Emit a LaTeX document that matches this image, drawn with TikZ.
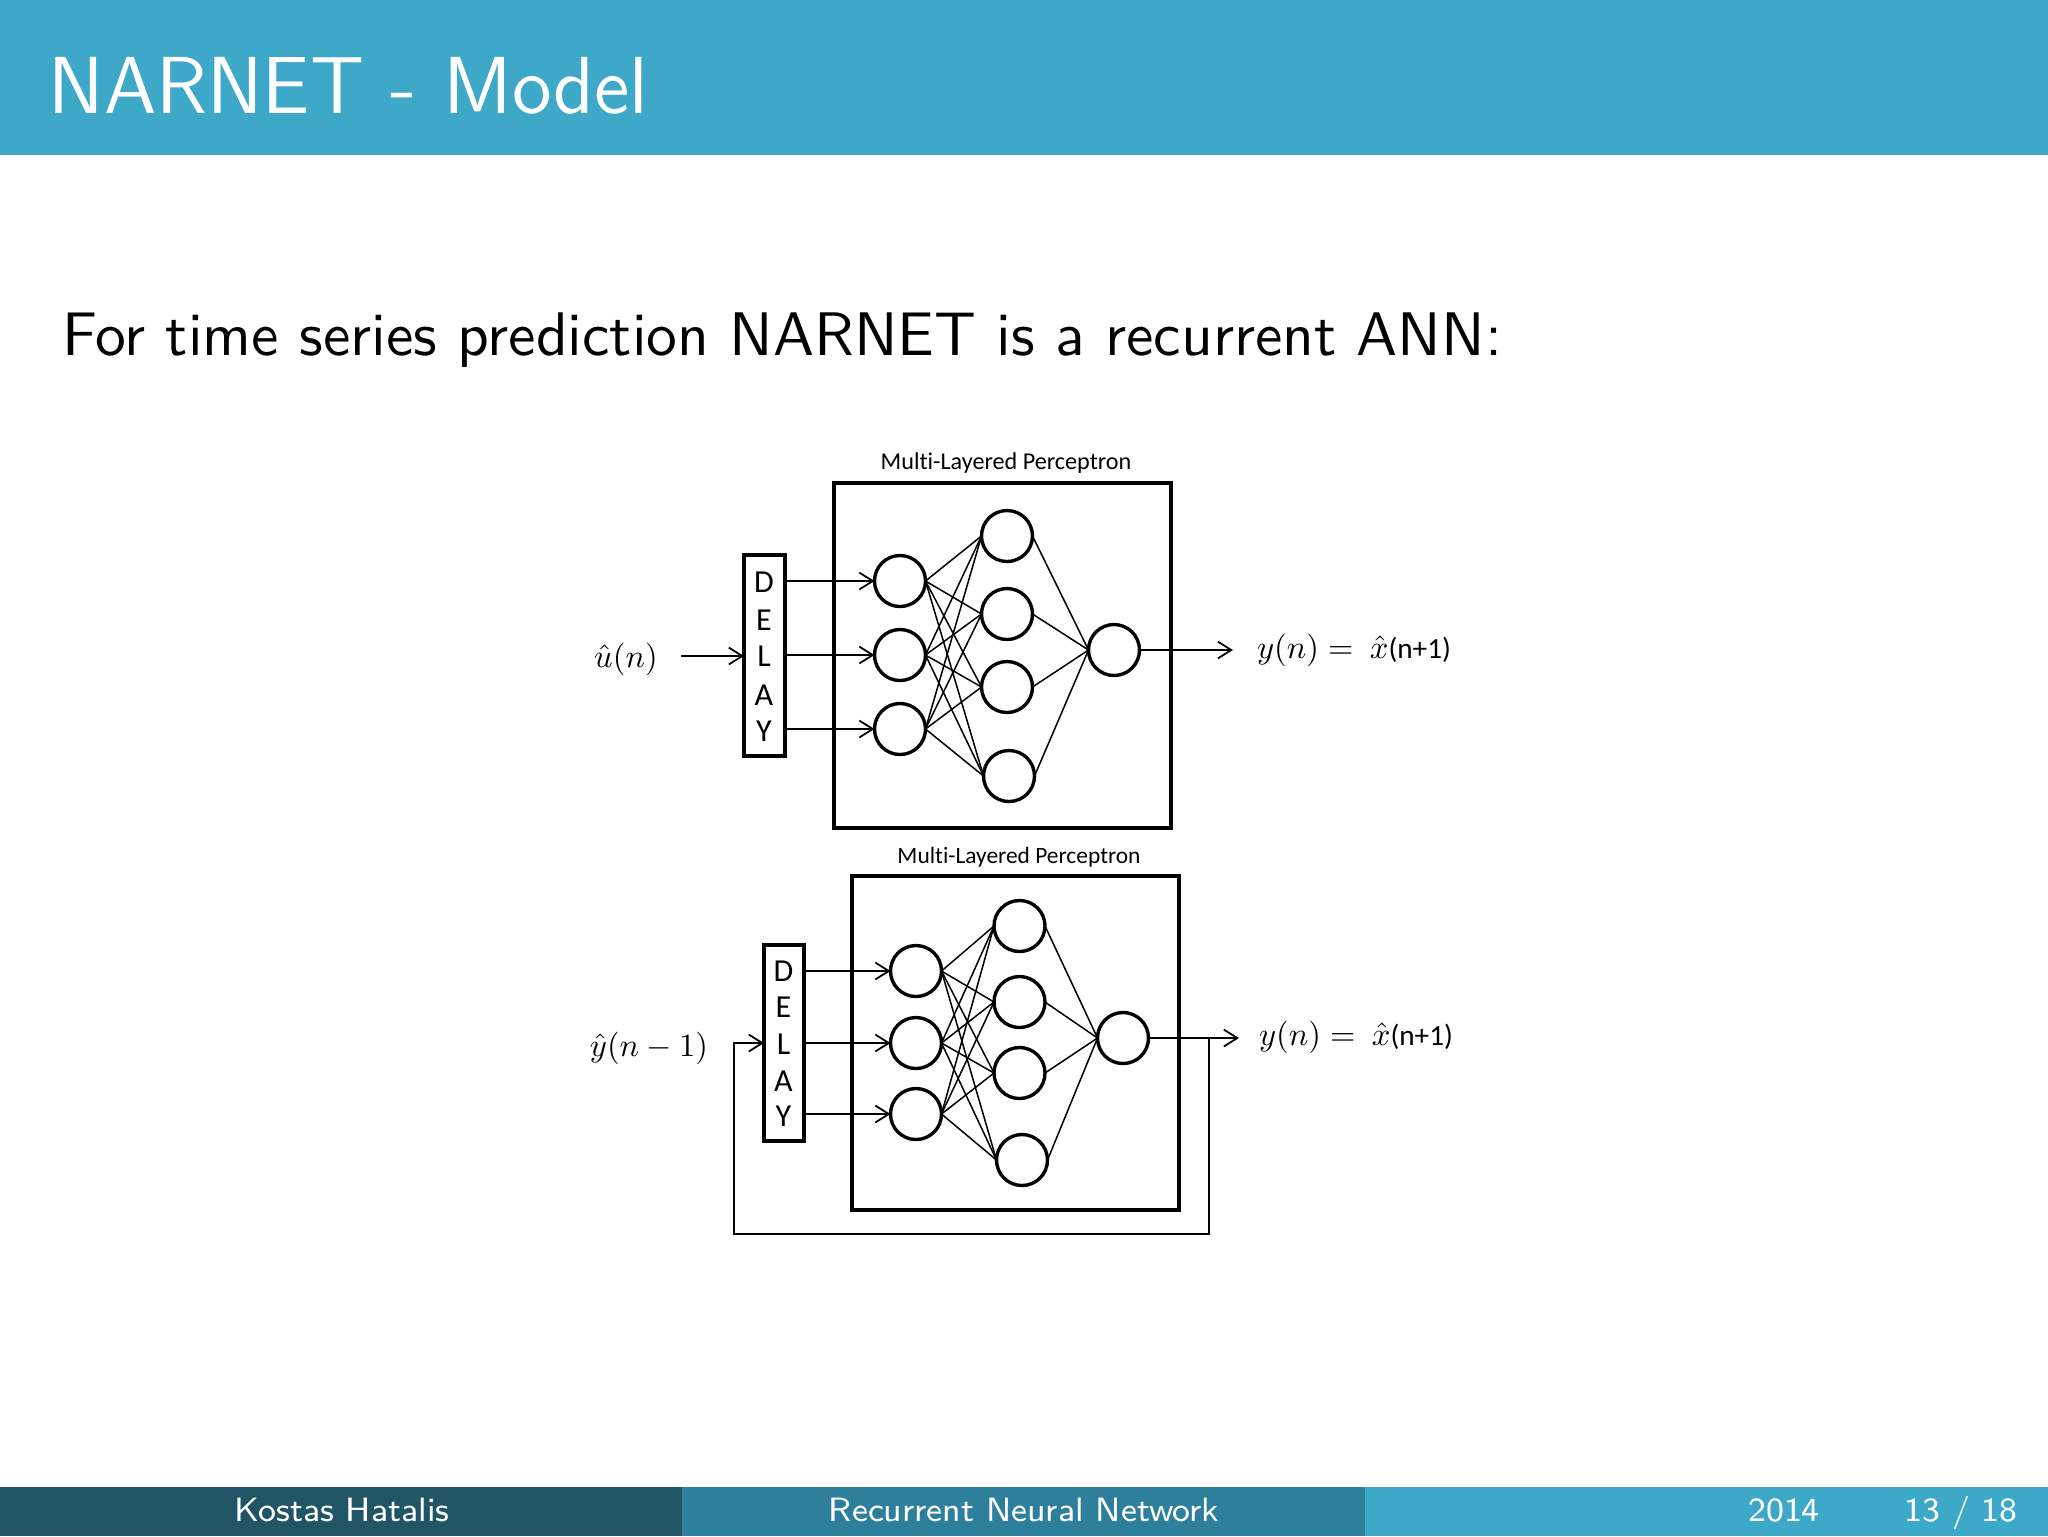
\documentclass[tikz,border=0pt]{standalone}
\usepackage{fontspec}
\usetikzlibrary{arrows.meta}
\newfontfamily\calfont[Ligatures=CommonOff]{Carlito}
\definecolor{bandlight}{HTML}{3DA8C8}
\definecolor{bandmid}{HTML}{2E7F9C}
\definecolor{banddark}{HTML}{1F5565}
\def\pxu{0.00625cm}
\newcommand\smallmath[1]{\scalebox{.58}{\fontsize{10}{12}\selectfont$#1$}}
\tikzset{
	neuron/.style={draw,circle,line width=.6pt,inner sep=0pt,outer sep=0pt,minimum size=51*\pxu},
	frame/.style={draw,rectangle,line width=.55pt,inner sep=0pt,outer sep=0pt},
	syn/.style={line width=.27pt},
	feed/.style={line width=.32pt,-{Straight Barb[length=2.4pt,width=3pt,line width=.32pt]}},
	mlpname/.style={inner sep=0pt,font=\calfont\fontsize{4.3}{6}\selectfont},
	letter/.style={inner sep=0pt,font=\calfont\fontsize{5.7}{7}\selectfont},
	eqn/.style={inner sep=0pt,font=\calfont\fontsize{5.2}{7}\selectfont},
	foot/.style={inner sep=0pt,anchor=base,text=white,font=\sffamily\fontsize{6}{8}\selectfont}
}
\begin{document}
\begin{tikzpicture}[x=\pxu,y=-\pxu]
\useasboundingbox (0,0) rectangle (2048,1536);
% header and footer bands
\fill[bandlight] (0,0) rectangle (2048,155);
\fill[banddark] (0,1487) rectangle (682,1536);
\fill[bandmid] (682,1487) rectangle (1365,1536);
\fill[bandlight] (1365,1487) rectangle (2048,1536);
\node[anchor=base west,inner sep=0pt,text=white,font=\sffamily\fontsize{14.4}{16}\selectfont] (title) at (47.5,113) {NARNET - Model};
\node[anchor=base west,inner sep=0pt,font=\sffamily\fontsize{10.95}{13}\selectfont] (intro) at (61,355.5) {For time series prediction NARNET is a recurrent ANN:};
\node[foot] (author) at (342,1521) {Kostas Hatalis};
\node[foot] (topic) at (1024,1521) {Recurrent Neural Network};
\node[foot] (year) at (1784,1521) {2014};
\node[foot] (page) at (1961,1521) {13 / 18};
% upper network
\node[frame,minimum width=337*\pxu,minimum height=345*\pxu] (mlpa) at (1002.5,655.5) {};
\node[mlpname] (capa) at (1006,463) {Multi-Layered Perceptron};
\node[frame,minimum width=41*\pxu,minimum height=201*\pxu] (dela) at (764.5,655.5) {};
\foreach \l/\y in {D/582,E/620,L/656,A/695,Y/731}
	\node[letter] (dela\l) at (764,\y) {\l};
\foreach \n/\x/\y in {1/900/581,2/900/655,3/900/729}
	\node[neuron] (ia\n) at (\x,\y) {};
\foreach \n/\x/\y in {1/1007/536,2/1007/614,3/1007/687,4/1009/776}
	\node[neuron] (ha\n) at (\x,\y) {};
\node[neuron] (oa) at (1114,650) {};
\foreach \i in {1,2,3}{
	\draw[feed] (dela.east |- ia\i) -- (ia\i.west);
	\foreach \h in {1,2,3,4}
		\draw[syn] (ia\i.east) -- (ha\h.west);
}
\foreach \h in {1,2,3,4}
	\draw[syn] (ha\h.east) -- (oa.west);
\node[eqn] (ina) at (626,659) {\smallmath{\hat{u}(n)}};
\coordinate (ina0) at (681,656);
\draw[feed] (ina0) -- (dela.west |- ina0);
\coordinate (outa) at (1233,650);
\draw[feed] (oa.east) -- (outa);
\node[eqn] (eqa) at (1354,650) {\smallmath{y(n)=\ \hat{x}}(n+1)};
% lower network, fed back
\node[frame,minimum width=327*\pxu,minimum height=334*\pxu] (mlpb) at (1015.5,1043) {};
\node[mlpname,font=\calfont\fontsize{4.17}{6}\selectfont] (capb) at (1019,857) {Multi-Layered Perceptron};
\node[frame,minimum width=40*\pxu,minimum height=196*\pxu] (delb) at (784,1043) {};
\foreach \l/\y in {D/971,E/1007,L/1044,A/1081,Y/1116}
	\node[letter] (delb\l) at (783.5,\y) {\l};
\foreach \n/\x/\y in {1/916/971,2/916/1043,3/916/1114}
	\node[neuron] (ib\n) at (\x,\y) {};
\foreach \n/\x/\y in {1/1019.5/926,2/1019.5/1002,3/1019.5/1073,4/1022/1160}
	\node[neuron] (hb\n) at (\x,\y) {};
\node[neuron] (ob) at (1123,1038) {};
\foreach \i in {1,2,3}{
	\draw[feed] (delb.east |- ib\i) -- (ib\i.west);
	\foreach \h in {1,2,3,4}
		\draw[syn] (ib\i.east) -- (hb\h.west);
}
\foreach \h in {1,2,3,4}
	\draw[syn] (hb\h.east) -- (ob.west);
\node[eqn] (inb) at (649,1048) {\smallmath{\hat{y}(n-1)}};
\coordinate (outb) at (1239,1038);
\coordinate (tap) at (1209,1038);
\coordinate (backr) at (1209,1234);
\coordinate (backl) at (734,1234);
\coordinate (backu) at (734,1043);
\draw[feed] (ob.east) -- (outb);
\draw[feed] (tap) -- (backr) -- (backl) -- (backu) -- (delb.west |- backu);
\node[eqn] (eqb) at (1356,1037) {\smallmath{y(n)=\ \hat{x}}(n+1)};
\end{tikzpicture}
\end{document}
